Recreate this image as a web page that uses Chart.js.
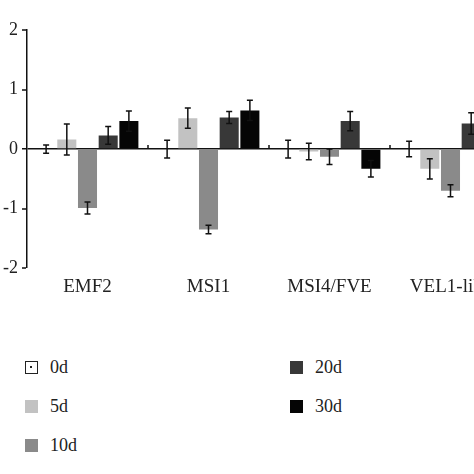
<!DOCTYPE html>
<html>
  <head>
    <title>Relative expression</title>
    <script src="https://cdn.jsdelivr.net/npm/chart.js"></script>
    <style>
      html, body {
        margin: 0;
        padding: 0;
        background: #fff;
        overflow: hidden;
        width: 474px;
        height: 474px;
      }
      #wrap {
        position: relative;
        width: 540px;
        height: 305px;
      }
      #legend {
        position: absolute;
        top: 354px;
        left: 25px;
        display: grid;
        grid-template-columns: 265px 120px;
        grid-auto-flow: column;
        grid-template-rows: 39px 39px 39px;
        font-family: 'Liberation Serif', serif;
        font-size: 18px;
        color: #222;
      }
      .item {
        display: flex;
        align-items: center;
        height: 26px;
      }
      .box {
        width: 13px;
        height: 13px;
        margin-right: 12px;
        box-sizing: border-box;
        position: relative;
      }
    </style>
  </head>
  <body>
    <div id="wrap"><canvas id="chart"></canvas></div>
    <div id="legend"></div>

    <script>
      // genes on the x axis (last one is cut off by the frame)
      const genes = ['EMF2', 'MSI1', 'MSI4/FVE', 'VEL1-like']
      const days = ['0d', '5d', '10d', '20d', '30d']
      const yTicks = [-2, -1, 0, 1, 2]

      // log2 fold change per day, one value per gene
      const d0 = [0, 0, 0, 0]
      const d5 = [0.16, 0.52, -0.04, -0.33]
      const d10 = [-0.99, -1.35, -0.13, -0.7]
      const d20 = [0.23, 0.53, 0.47, 0.43]
      const d30 = [0.47, 0.65, -0.33, null]

      // error bar half widths
      const e0 = [0.07, 0.15, 0.15, 0.13]
      const e5 = [0.26, 0.17, 0.14, 0.17]
      const e10 = [0.1, 0.07, 0.13, 0.1]
      const e20 = [0.15, 0.1, 0.16, 0.18]
      const e30 = [0.17, 0.17, 0.14, null]

      const fills = ['#ffffff', '#c2c2c2', '#8a8a8a', '#383838', '#050505']
      const values = [d0, d5, d10, d20, d30]
      const errors = [e0, e5, e10, e20, e30]

      const errorBars = {
        id: 'errorBars',
        afterDatasetsDraw(chart) {
          const ctx = chart.ctx
          const y = chart.scales.y
          ctx.save()
          ctx.strokeStyle = '#111'
          ctx.lineWidth = 1.5
          chart.data.datasets.forEach((ds, i) => {
            const meta = chart.getDatasetMeta(i)
            meta.data.forEach((bar, j) => {
              const v = ds.data[j]
              const e = ds.errors[j]
              if (v === null || e === null) return
              const top = y.getPixelForValue(v + e)
              const bot = y.getPixelForValue(v - e)
              ctx.beginPath()
              ctx.moveTo(bar.x, top)
              ctx.lineTo(bar.x, bot)
              ctx.moveTo(bar.x - 3, top)
              ctx.lineTo(bar.x + 3, top)
              ctx.moveTo(bar.x - 3, bot)
              ctx.lineTo(bar.x + 3, bot)
              ctx.stroke()
            })
          })
          // small ticks between genes on the zero line
          const x = chart.scales.x
          const y0 = y.getPixelForValue(0)
          for (let k = 1; k < genes.length; k++) {
            const px = (x.getPixelForValue(k - 1) + x.getPixelForValue(k)) / 2
            ctx.beginPath()
            ctx.moveTo(px, y0)
            ctx.lineTo(px, y0 - 4)
            ctx.stroke()
          }
          ctx.restore()
        }
      }

      new Chart(document.getElementById('chart'), {
        type: 'bar',
        data: {
          labels: genes,
          datasets: days.map((d, i) => ({
            label: d,
            data: values[i],
            errors: errors[i],
            backgroundColor: fills[i],
            borderColor: i === 0 ? '#111' : fills[i],
            borderWidth: i === 0 ? 1 : 0,
            categoryPercentage: 0.855,
            barPercentage: 0.92
          }))
        },
        options: {
          responsive: true,
          maintainAspectRatio: false,
          animation: false,
          layout: { padding: { top: 30, left: 0, right: 29, bottom: 0 } },
          plugins: {
            legend: { display: false },
            tooltip: { enabled: false }
          },
          scales: {
            x: {
              grid: { display: false, drawTicks: false },
              border: { display: false },
              ticks: {
                color: '#222',
                padding: 7,
                font: { family: 'Liberation Serif', size: 19 }
              }
            },
            y: {
              min: -2,
              max: 2,
              afterFit: s => { s.width = 27 },
              afterBuildTicks: s => { s.ticks = yTicks.map(v => ({ value: v })) },
              border: { display: true, color: '#111', width: 1.5 },
              grid: {
                drawOnChartArea: true,
                tickLength: 5,
                tickColor: '#111',
                tickWidth: 1.5,
                color: c => (c.tick && c.tick.value === 0 ? '#111' : 'rgba(0,0,0,0)'),
                lineWidth: c => (c.tick && c.tick.value === 0 ? 1.5 : 0)
              },
              ticks: {
                color: '#222',
                padding: 4,
                font: { family: 'Liberation Serif', size: 18 }
              }
            }
          }
        },
        plugins: [errorBars]
      })

      // legend in two columns, built from the same series
      const legend = document.getElementById('legend')
      days.forEach((d, i) => {
        const item = document.createElement('div')
        item.className = 'item'
        const box = document.createElement('span')
        box.className = 'box'
        box.style.background = fills[i]
        if (i === 0) {
          box.style.border = '1.5px solid #222'
          const dot = document.createElement('span')
          dot.style.cssText = 'position:absolute;left:4px;top:4px;width:2px;height:2px;background:#222'
          box.appendChild(dot)
        }
        item.appendChild(box)
        item.appendChild(document.createTextNode(d))
        legend.appendChild(item)
      })
    </script>
  </body>
</html>
